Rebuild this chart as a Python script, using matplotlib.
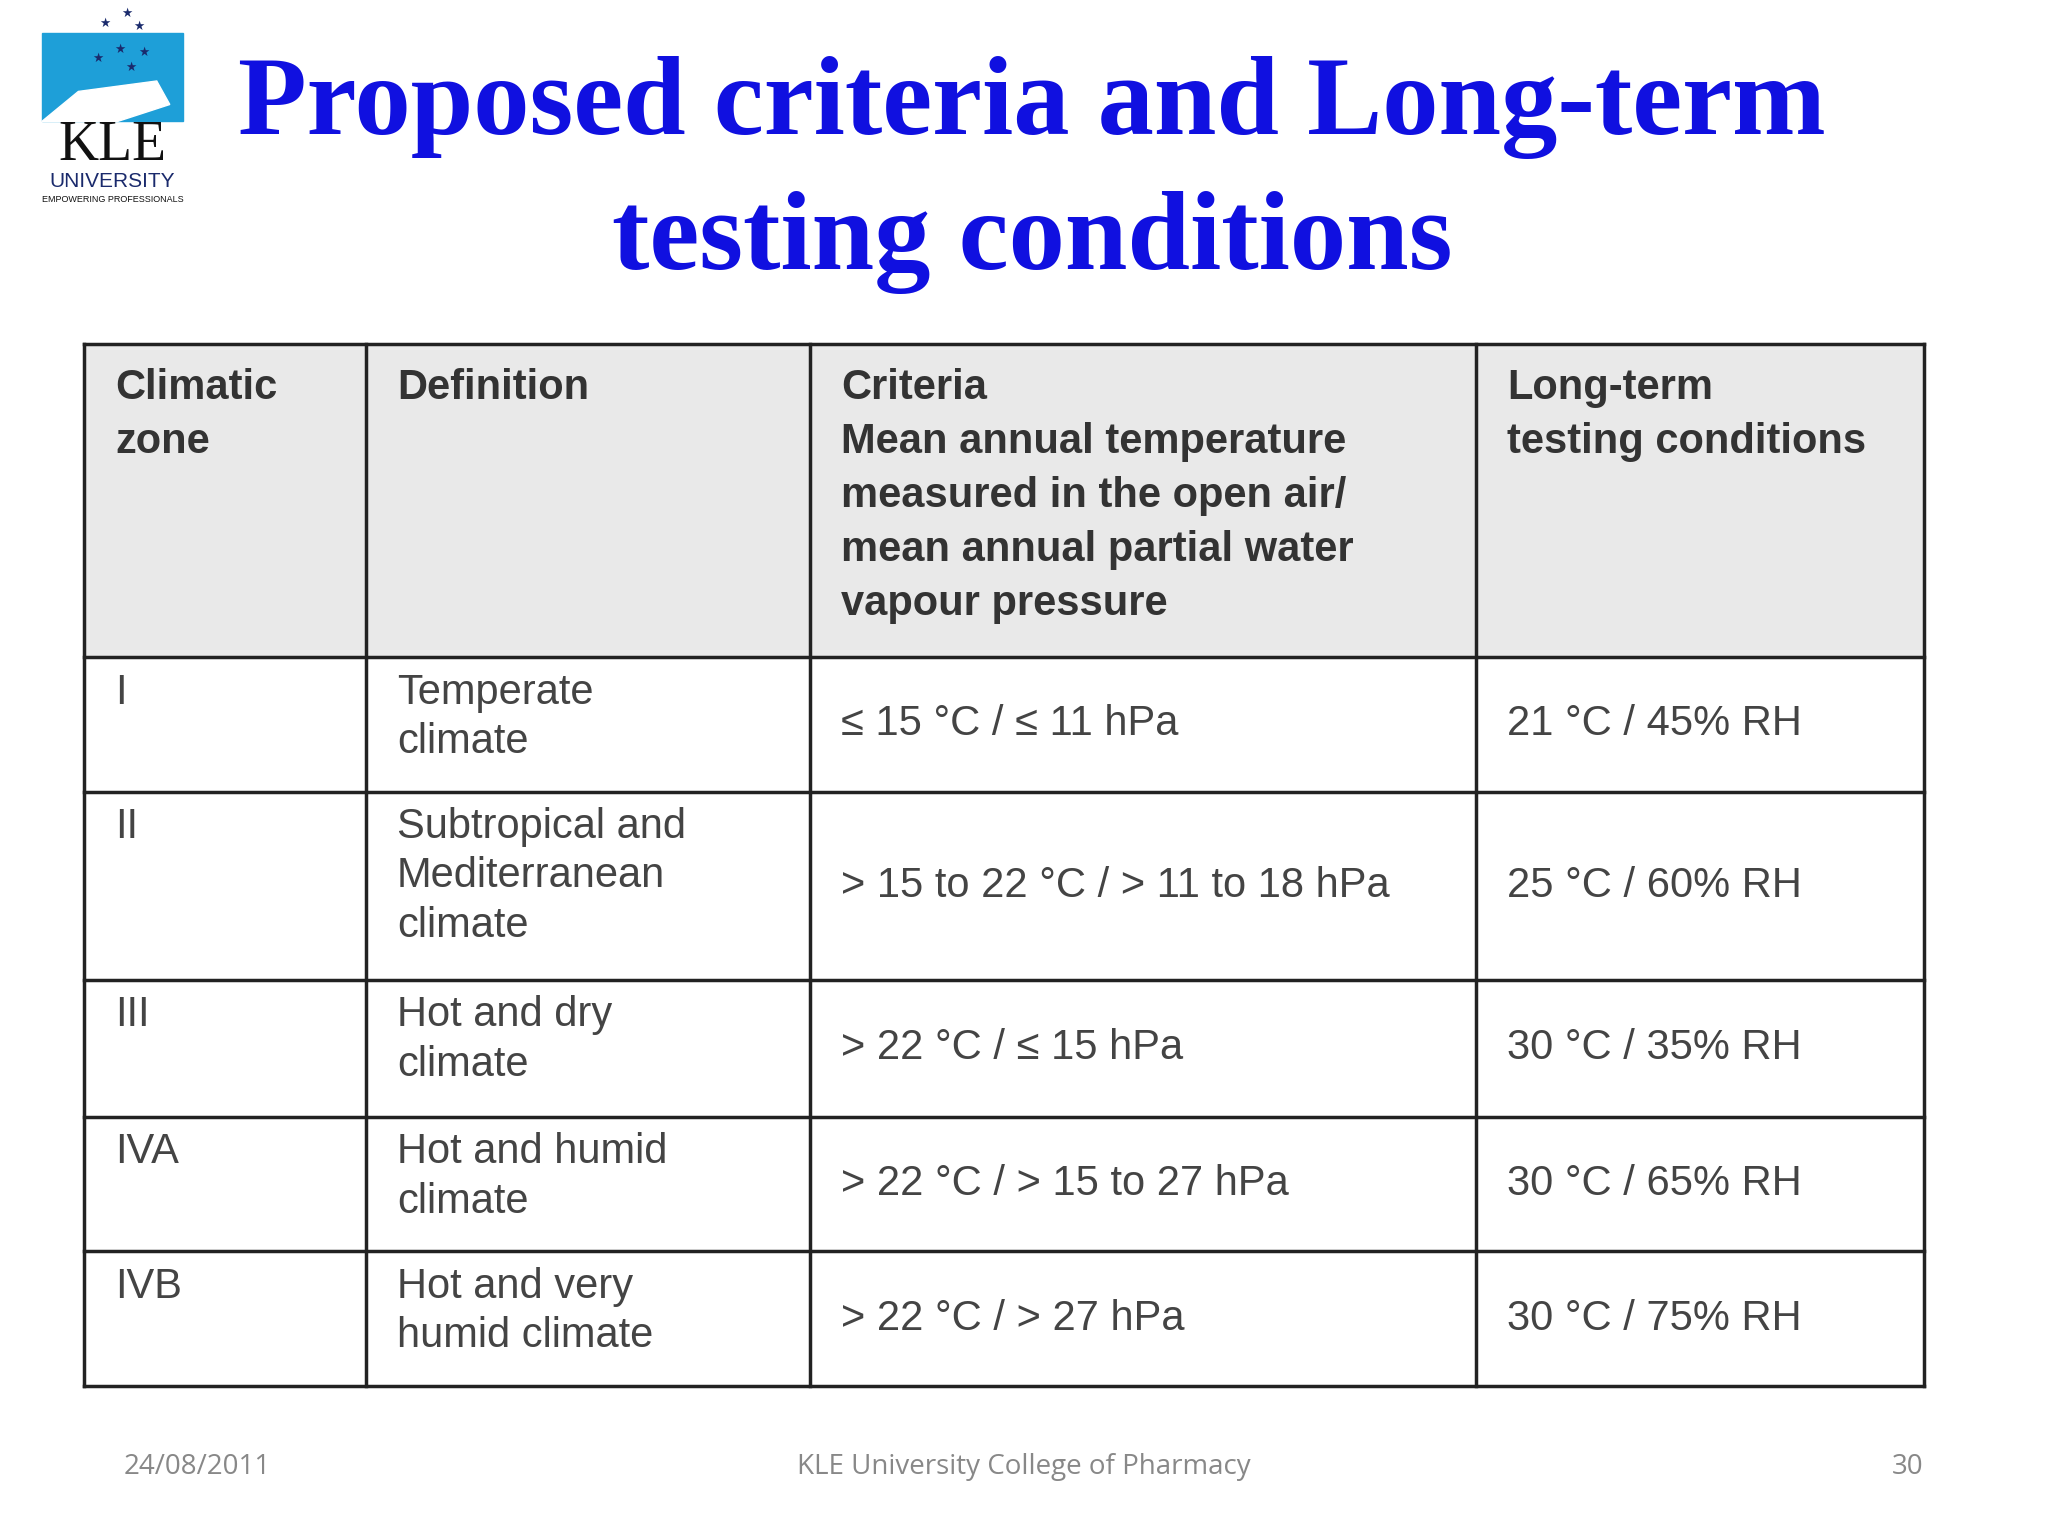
import matplotlib
matplotlib.use("Agg")
import matplotlib.pyplot as plt
from matplotlib.patches import Rectangle, Polygon

title_lines = ["Proposed criteria and Long-term", "testing conditions"]
headers = ["Climatic\nzone", "Definition",
           "Criteria\nMean annual temperature\nmeasured in the open air/\nmean annual partial water\nvapour pressure",
           "Long-term\ntesting conditions"]
zones = ["I", "II", "III", "IVA", "IVB"]
definitions = ["Temperate\nclimate", "Subtropical and\nMediterranean\nclimate", "Hot and dry\nclimate",
               "Hot and humid\nclimate", "Hot and very\nhumid climate"]
criteria = ["≤ 15 °C / ≤ 11 hPa", "> 15 to 22 °C / > 11 to 18 hPa", "> 22 °C / ≤ 15 hPa",
            "> 22 °C / > 15 to 27 hPa", "> 22 °C / > 27 hPa"]
conditions = ["21 °C / 45% RH", "25 °C / 60% RH", "30 °C / 35% RH", "30 °C / 65% RH", "30 °C / 75% RH"]
footer = ["24/08/2011", "KLE University College of Pharmacy", "30"]

W, H = 1568, 1176
fig = plt.figure(figsize=(20.48, 15.36), dpi=100)
ax = fig.add_axes([0, 0, 1, 1])
ax.set_xlim(0, W); ax.set_ylim(H, 0); ax.axis("off")

# logo
ax.add_patch(Rectangle((32, 25), 108, 68, color="#1e9fd8"))
ax.add_patch(Polygon([(32, 93), (60, 70), (120, 62), (130, 80), (90, 93)], color="white"))
for (x, y) in [(80, 18), (97, 10), (106, 20), (75, 45), (92, 38), (110, 40), (100, 52)]:
    ax.text(x, y, "★", fontsize=9, color="#1a2a6c", ha="center", va="center", family="DejaVu Sans")
ax.text(86, 112, "KLE", fontsize=40, family="Liberation Serif", ha="center", va="center", color="#111")
ax.text(86, 139, "UNIVERSITY", fontsize=15, family="Liberation Sans", ha="center", va="center", color="#1a2a6c")
ax.text(86, 153, "EMPOWERING PROFESSIONALS", fontsize=6.5, family="Liberation Sans", ha="center", va="center", color="#111")

ax.text(790, 82, title_lines[0], fontsize=81, fontweight="bold", family="Liberation Serif",
        color="#1010e0", ha="center", va="center")
ax.text(790, 186, title_lines[1], fontsize=81, fontweight="bold", family="Liberation Serif",
        color="#1010e0", ha="center", va="center")

xs = [64, 280, 620, 1130, 1473]
ys = [263, 503, 606, 750, 855, 958, 1061]
ax.add_patch(Rectangle((xs[0], ys[0]), xs[-1]-xs[0], ys[1]-ys[0], color="#e9e9e9", zorder=0))
for y in ys:
    ax.plot([xs[0], xs[-1]], [y, y], color="#222", lw=2.5)
for x in xs:
    ax.plot([x, x], [ys[0], ys[-1]], color="#222", lw=2.5)

fs = 30
for i, h in enumerate(headers):
    ax.text(xs[i]+24, 282, h, fontsize=fs, fontweight="bold", family="Liberation Sans", color="#333",
            va="top", ha="left", linespacing=1.45)
for r in range(5):
    y0, y1 = ys[r+1], ys[r+2]
    ax.text(xs[0]+24, y0+12, zones[r], fontsize=fs, family="Liberation Sans", color="#444", va="top")
    ax.text(xs[1]+24, y0+12, definitions[r], fontsize=fs, family="Liberation Sans", color="#444",
            va="top", linespacing=1.3)
    ax.text(xs[2]+24, (y0+y1)/2, criteria[r], fontsize=fs, family="Liberation Sans", color="#444", va="center")
    ax.text(xs[3]+24, (y0+y1)/2, conditions[r], fontsize=fs, family="Liberation Sans", color="#444", va="center")

ax.text(95, 1123, footer[0], fontsize=20, color="#888", family="Open Sans", va="center")
ax.text(784, 1123, footer[1], fontsize=20, color="#888", family="Open Sans", va="center", ha="center")
ax.text(1473, 1123, footer[2], fontsize=20, color="#888", family="Open Sans", va="center", ha="right")

fig.savefig("out.png", dpi=100, facecolor="white")
